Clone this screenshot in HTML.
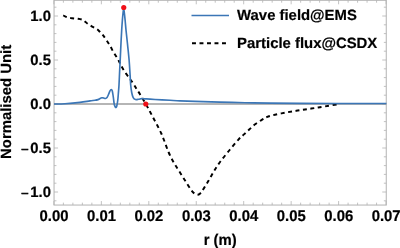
<!DOCTYPE html>
<html><head><meta charset="utf-8"><title>plot</title>
<style>html,body{margin:0;padding:0;background:#fff}svg{display:block}</style></head>
<body><svg width="400" height="248" viewBox="0 0 400 248">
<rect width="400" height="248" fill="#fff"/>
<rect x="54.05" y="0.3" width="332.2" height="204.75" fill="none" stroke="#b2b2b2" stroke-width="1"/>
<path d="M53.90,205.05 v-4.0 M53.90,0.3 v4.0 M63.39,205.05 v-2.4 M63.39,0.3 v2.4 M72.88,205.05 v-2.4 M72.88,0.3 v2.4 M82.37,205.05 v-2.4 M82.37,0.3 v2.4 M91.86,205.05 v-2.4 M91.86,0.3 v2.4 M101.35,205.05 v-4.0 M101.35,0.3 v4.0 M110.84,205.05 v-2.4 M110.84,0.3 v2.4 M120.33,205.05 v-2.4 M120.33,0.3 v2.4 M129.82,205.05 v-2.4 M129.82,0.3 v2.4 M139.31,205.05 v-2.4 M139.31,0.3 v2.4 M148.80,205.05 v-4.0 M148.80,0.3 v4.0 M158.29,205.05 v-2.4 M158.29,0.3 v2.4 M167.78,205.05 v-2.4 M167.78,0.3 v2.4 M177.27,205.05 v-2.4 M177.27,0.3 v2.4 M186.76,205.05 v-2.4 M186.76,0.3 v2.4 M196.25,205.05 v-4.0 M196.25,0.3 v4.0 M205.74,205.05 v-2.4 M205.74,0.3 v2.4 M215.23,205.05 v-2.4 M215.23,0.3 v2.4 M224.72,205.05 v-2.4 M224.72,0.3 v2.4 M234.21,205.05 v-2.4 M234.21,0.3 v2.4 M243.70,205.05 v-4.0 M243.70,0.3 v4.0 M253.19,205.05 v-2.4 M253.19,0.3 v2.4 M262.68,205.05 v-2.4 M262.68,0.3 v2.4 M272.17,205.05 v-2.4 M272.17,0.3 v2.4 M281.66,205.05 v-2.4 M281.66,0.3 v2.4 M291.15,205.05 v-4.0 M291.15,0.3 v4.0 M300.64,205.05 v-2.4 M300.64,0.3 v2.4 M310.13,205.05 v-2.4 M310.13,0.3 v2.4 M319.62,205.05 v-2.4 M319.62,0.3 v2.4 M329.11,205.05 v-2.4 M329.11,0.3 v2.4 M338.60,205.05 v-4.0 M338.60,0.3 v4.0 M348.09,205.05 v-2.4 M348.09,0.3 v2.4 M357.58,205.05 v-2.4 M357.58,0.3 v2.4 M367.07,205.05 v-2.4 M367.07,0.3 v2.4 M376.56,205.05 v-2.4 M376.56,0.3 v2.4 M386.05,205.05 v-4.0 M386.05,0.3 v4.0 M54.05,200.80 h2.4 M386.25,200.80 h-2.4 M54.05,192.00 h4.0 M386.25,192.00 h-4.0 M54.05,183.20 h2.4 M386.25,183.20 h-2.4 M54.05,174.40 h2.4 M386.25,174.40 h-2.4 M54.05,165.60 h2.4 M386.25,165.60 h-2.4 M54.05,156.80 h2.4 M386.25,156.80 h-2.4 M54.05,148.00 h4.0 M386.25,148.00 h-4.0 M54.05,139.20 h2.4 M386.25,139.20 h-2.4 M54.05,130.40 h2.4 M386.25,130.40 h-2.4 M54.05,121.60 h2.4 M386.25,121.60 h-2.4 M54.05,112.80 h2.4 M386.25,112.80 h-2.4 M54.05,104.00 h4.0 M386.25,104.00 h-4.0 M54.05,95.20 h2.4 M386.25,95.20 h-2.4 M54.05,86.40 h2.4 M386.25,86.40 h-2.4 M54.05,77.60 h2.4 M386.25,77.60 h-2.4 M54.05,68.80 h2.4 M386.25,68.80 h-2.4 M54.05,60.00 h4.0 M386.25,60.00 h-4.0 M54.05,51.20 h2.4 M386.25,51.20 h-2.4 M54.05,42.40 h2.4 M386.25,42.40 h-2.4 M54.05,33.60 h2.4 M386.25,33.60 h-2.4 M54.05,24.80 h2.4 M386.25,24.80 h-2.4 M54.05,16.00 h4.0 M386.25,16.00 h-4.0 M54.05,7.20 h2.4 M386.25,7.20 h-2.4" stroke="#b2b2b2" stroke-width="0.8" fill="none"/>
<path d="M54.05,104 H386.25" stroke="#9c9c9c" stroke-width="1.3" fill="none"/>
<path d="M63.20,15.40 C63.83,15.70 65.53,16.73 67.00,17.20 C68.47,17.67 70.17,17.93 72.00,18.20 C73.83,18.47 76.25,18.53 78.00,18.80 C79.75,19.07 81.33,19.35 82.50,19.80 C83.67,20.25 84.08,20.80 85.00,21.50 C85.92,22.20 87.00,23.28 88.00,24.00 C89.00,24.72 89.92,25.17 91.00,25.80 C92.08,26.43 93.42,27.17 94.50,27.80 C95.58,28.43 96.55,28.87 97.50,29.60 C98.45,30.33 99.37,31.38 100.20,32.20 C101.03,33.02 101.50,33.25 102.50,34.50 C103.50,35.75 104.95,37.83 106.20,39.70 C107.45,41.57 108.75,43.57 110.00,45.70 C111.25,47.83 112.45,50.37 113.70,52.50 C114.95,54.63 116.45,56.70 117.50,58.50 C118.55,60.30 119.12,61.63 120.00,63.30 C120.88,64.97 121.54,66.50 122.75,68.50 C123.96,70.50 125.62,72.97 127.25,75.30 C128.88,77.63 131.00,80.30 132.50,82.50 C134.00,84.70 135.00,86.53 136.25,88.50 C137.50,90.47 138.41,91.72 140.00,94.30 C141.59,96.88 144.15,101.13 145.80,104.00 C147.45,106.87 148.58,109.03 149.90,111.50 C151.22,113.97 152.48,116.42 153.75,118.80 C155.02,121.17 156.26,123.34 157.50,125.75 C158.74,128.16 160.09,130.79 161.20,133.25 C162.31,135.71 162.93,137.38 164.15,140.50 C165.37,143.62 166.97,148.46 168.50,152.00 C170.03,155.54 171.50,158.52 173.30,161.75 C175.10,164.98 177.28,168.18 179.30,171.40 C181.32,174.62 183.38,177.95 185.40,181.10 C187.42,184.25 189.83,188.20 191.40,190.30 C192.97,192.40 193.77,192.95 194.80,193.70 C195.83,194.45 196.70,194.85 197.60,194.80 C198.50,194.75 199.38,194.12 200.20,193.40 C201.02,192.68 201.15,192.55 202.50,190.50 C203.85,188.45 206.32,184.45 208.30,181.10 C210.28,177.75 212.38,173.67 214.40,170.40 C216.42,167.13 217.93,164.82 220.40,161.50 C222.87,158.18 226.23,154.12 229.20,150.50 C232.17,146.88 235.73,142.48 238.20,139.80 C240.67,137.12 242.12,136.15 244.00,134.40 C245.88,132.65 247.65,130.98 249.50,129.30 C251.35,127.62 253.10,125.83 255.10,124.30 C257.10,122.77 259.82,121.15 261.50,120.10 C263.18,119.05 264.07,118.60 265.20,118.00 C266.33,117.40 266.67,117.05 268.30,116.50 C269.93,115.95 272.22,115.33 275.00,114.70 C277.78,114.07 281.67,113.32 285.00,112.70 C288.33,112.08 291.67,111.53 295.00,111.00 C298.33,110.47 301.67,110.00 305.00,109.50 C308.33,109.00 311.67,108.52 315.00,108.00 C318.33,107.48 321.33,107.00 325.00,106.40 C328.67,105.80 335.00,104.73 337.00,104.40" stroke="#000" stroke-width="1.95" stroke-dasharray="3.95 3.55" fill="none"/>
<path d="M54.00,104.00 C55.83,103.95 60.67,103.97 65.00,103.70 C69.33,103.43 75.83,102.87 80.00,102.40 C84.17,101.93 87.50,101.25 90.00,100.90 C92.50,100.55 93.67,100.52 95.00,100.30 C96.33,100.08 97.17,99.88 98.00,99.60 C98.83,99.32 99.38,98.90 100.00,98.60 C100.62,98.30 101.17,97.90 101.75,97.80 C102.33,97.70 102.88,97.88 103.50,98.00 C104.12,98.12 104.92,98.57 105.50,98.50 C106.08,98.43 106.50,98.27 107.00,97.60 C107.50,96.93 108.00,95.63 108.50,94.50 C109.00,93.37 109.55,91.63 110.00,90.80 C110.45,89.97 110.82,89.47 111.20,89.50 C111.58,89.53 111.95,89.75 112.30,91.00 C112.65,92.25 112.98,94.83 113.30,97.00 C113.62,99.17 113.88,102.37 114.20,104.00 C114.52,105.63 114.90,106.22 115.20,106.80 C115.50,107.38 115.73,107.63 116.00,107.50 C116.27,107.37 116.50,107.25 116.80,106.00 C117.10,104.75 117.53,102.17 117.80,100.00 C118.07,97.83 118.20,95.50 118.40,93.00 C118.60,90.50 118.80,88.50 119.00,85.00 C119.20,81.50 119.40,76.17 119.60,72.00 C119.80,67.83 119.98,64.50 120.20,60.00 C120.42,55.50 120.65,50.00 120.90,45.00 C121.15,40.00 121.45,34.17 121.70,30.00 C121.95,25.83 122.17,22.92 122.40,20.00 C122.63,17.08 122.88,14.40 123.10,12.50 C123.32,10.60 123.50,8.60 123.70,8.60 C123.90,8.60 124.07,10.60 124.30,12.50 C124.53,14.40 124.80,16.92 125.10,20.00 C125.40,23.08 125.68,26.83 126.10,31.00 C126.52,35.17 127.10,40.17 127.60,45.00 C128.10,49.83 128.68,55.00 129.10,60.00 C129.52,65.00 129.83,70.83 130.10,75.00 C130.37,79.17 130.43,82.08 130.70,85.00 C130.97,87.92 131.28,90.40 131.70,92.50 C132.12,94.60 132.57,96.43 133.20,97.60 C133.83,98.77 134.62,99.22 135.50,99.50 C136.38,99.78 137.50,99.45 138.50,99.30 C139.50,99.15 140.67,98.68 141.50,98.60 C142.33,98.52 142.75,98.75 143.50,98.80 C144.25,98.85 144.92,98.85 146.00,98.90 C147.08,98.95 148.50,99.01 150.00,99.10 C151.50,99.19 153.00,99.32 155.00,99.45 C157.00,99.58 159.50,99.76 162.00,99.90 C164.50,100.04 167.00,100.13 170.00,100.30 C173.00,100.47 175.83,100.72 180.00,100.90 C184.17,101.08 188.33,101.20 195.00,101.40 C201.67,101.60 211.67,101.88 220.00,102.10 C228.33,102.32 236.67,102.53 245.00,102.70 C253.33,102.87 260.83,102.98 270.00,103.10 C279.17,103.22 288.83,103.33 300.00,103.40 C311.17,103.47 322.60,103.48 337.00,103.50 C351.40,103.52 378.17,103.50 386.40,103.50" stroke="#3b76b6" stroke-width="1.65" fill="none" stroke-linejoin="round"/>
<circle cx="123.75" cy="7.5" r="2.6" fill="#f01018"/>
<circle cx="145.8" cy="104" r="2.6" fill="#f01018"/>
<path d="M191.5,15.5 H229" stroke="#3b76b6" stroke-width="1.65"/>
<path d="M192,43.3 H228.5" stroke="#000" stroke-width="1.95" stroke-dasharray="3.95 3.55"/>
<g font-family="'Liberation Sans', Arial, sans-serif" font-weight="bold" font-size="14.88" fill="#000" stroke="#000" stroke-width="0.2" style="text-rendering:geometricPrecision"><text transform="translate(237.10,19.75) scale(1,1.0)">Wave field@EMS</text>
<text transform="translate(237.10,47.60) scale(1,1.0)">Particle flux@CSDX</text>
<text transform="translate(54.00,221.45) scale(1,1.04)" text-anchor="middle">0.00</text>
<text transform="translate(101.45,221.45) scale(1,1.04)" text-anchor="middle">0.01</text>
<text transform="translate(148.90,221.45) scale(1,1.04)" text-anchor="middle">0.02</text>
<text transform="translate(196.35,221.45) scale(1,1.04)" text-anchor="middle">0.03</text>
<text transform="translate(243.80,221.45) scale(1,1.04)" text-anchor="middle">0.04</text>
<text transform="translate(291.25,221.45) scale(1,1.04)" text-anchor="middle">0.05</text>
<text transform="translate(338.70,221.45) scale(1,1.04)" text-anchor="middle">0.06</text>
<text transform="translate(386.15,221.45) scale(1,1.04)" text-anchor="middle">0.07</text>
<text transform="translate(51.00,21.20) scale(1,1.005)" text-anchor="end">1.0</text>
<text transform="translate(51.00,65.20) scale(1,1.005)" text-anchor="end">0.5</text>
<text transform="translate(51.00,109.20) scale(1,1.005)" text-anchor="end">0.0</text>
<text transform="translate(51.00,153.20) scale(1,1.005)" text-anchor="end">0.5</text>
<text x="28.7" y="154.10" text-anchor="end" font-weight="normal" font-size="13.2" stroke-width="0.55">−</text>
<text transform="translate(51.00,197.20) scale(1,1.005)" text-anchor="end">1.0</text>
<text x="28.7" y="198.10" text-anchor="end" font-weight="normal" font-size="13.2" stroke-width="0.55">−</text>
<text transform="translate(220.20,244.50) scale(1,1.04)" text-anchor="middle">r (m)</text>
<text transform="translate(11.10,101.90) rotate(-90) scale(1,0.99)" text-anchor="middle">Normalised Unit</text></g>
</svg></body></html>
